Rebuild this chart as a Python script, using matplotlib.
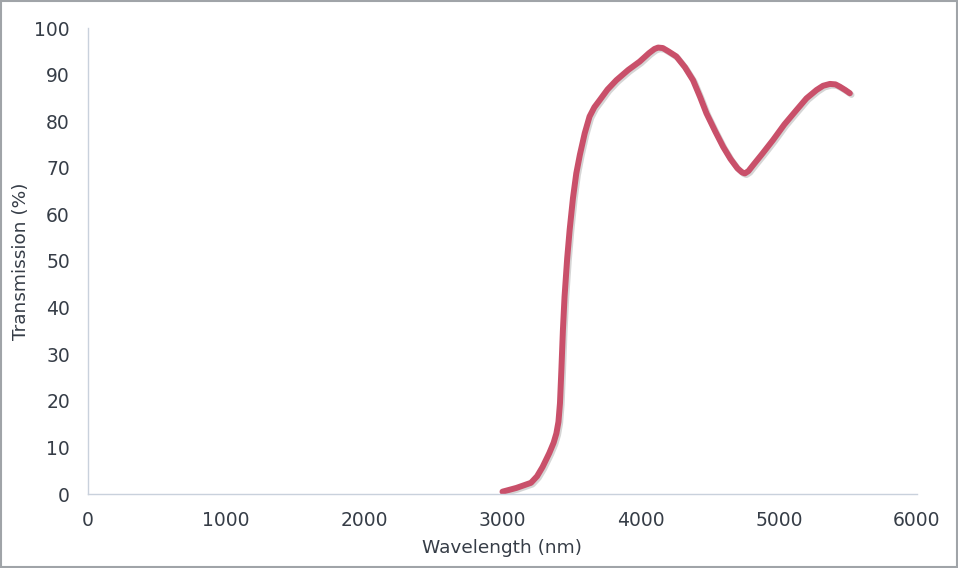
import matplotlib
matplotlib.use("Agg")
import matplotlib.pyplot as plt
import matplotlib.patheffects as pe
from matplotlib.patches import Rectangle

wavelength = [3000, 3100, 3206, 3250, 3290, 3339, 3370, 3390, 3405, 3416, 3426, 3437, 3449, 3468, 3486,
              3510, 3534, 3560, 3595, 3630, 3665, 3703, 3760, 3824, 3910, 3993, 4060, 4100, 4126,
              4160, 4200, 4258, 4320, 4379, 4430, 4476, 4540, 4597, 4650, 4700, 4735, 4754, 4780,
              4820, 4880, 4959, 5040, 5128, 5200, 5273, 5320, 5370, 5410, 5442, 5480, 5514]
transmission = [0.5, 1.3, 2.4, 3.8, 5.8, 8.8, 11.0, 13.0, 15.5, 19.5, 26.5, 35.0, 42.3, 50.5, 56.7,
                63.5, 68.8, 72.8, 77.4, 81.0, 83.0, 84.5, 86.8, 88.8, 91.0, 92.8, 94.6, 95.5, 95.8,
                95.7, 95.0, 93.9, 91.6, 88.8, 85.2, 81.7, 77.8, 74.5, 71.9, 69.9, 69.0, 68.8, 69.3,
                70.8, 73.0, 76.0, 79.3, 82.4, 84.9, 86.7, 87.6, 88.0, 87.9, 87.4, 86.7, 86.0]

xticks = [0, 1000, 2000, 3000, 4000, 5000, 6000]
yticks = [0, 10, 20, 30, 40, 50, 60, 70, 80, 90, 100]

plt.rcParams['font.family'] = ['DejaVu Sans']
text_color = '#363D47'

fig = plt.figure(figsize=(9.58, 5.68), dpi=100)
ax = fig.add_axes([88/958, 74/568, 829/958, 466/568])

ax.plot(wavelength, transmission, color='#C9506A', lw=4.3, solid_capstyle='round',
        solid_joinstyle='round',
        path_effects=[pe.SimpleLineShadow(offset=(1.2, -1.2), shadow_color='#888888', alpha=0.35),
                      pe.Normal()])

ax.set_xlim(0, 6000)
ax.set_ylim(0, 100)
ax.set_xticks(xticks)
ax.set_yticks(yticks)
ax.tick_params(axis='both', length=0, labelsize=13.5, labelcolor=text_color)
ax.tick_params(axis='y', pad=13)
ax.tick_params(axis='x', pad=12)
for s in ['top', 'right']:
    ax.spines[s].set_visible(False)
for s in ['left', 'bottom']:
    ax.spines[s].set_color('#C9D1DC')
    ax.spines[s].set_linewidth(1.0)

ax.set_xlabel('Wavelength (nm)', fontsize=13.3, color=text_color, labelpad=7)
ax.set_ylabel('Transmission (%)', fontsize=13.3, color=text_color, labelpad=3)

fig.patches.append(Rectangle((0.001, 0.001), 0.998, 0.997, transform=fig.transFigure,
                             fill=False, edgecolor='#A0A4A8', linewidth=1.5))

fig.savefig('out.png', dpi=100)
